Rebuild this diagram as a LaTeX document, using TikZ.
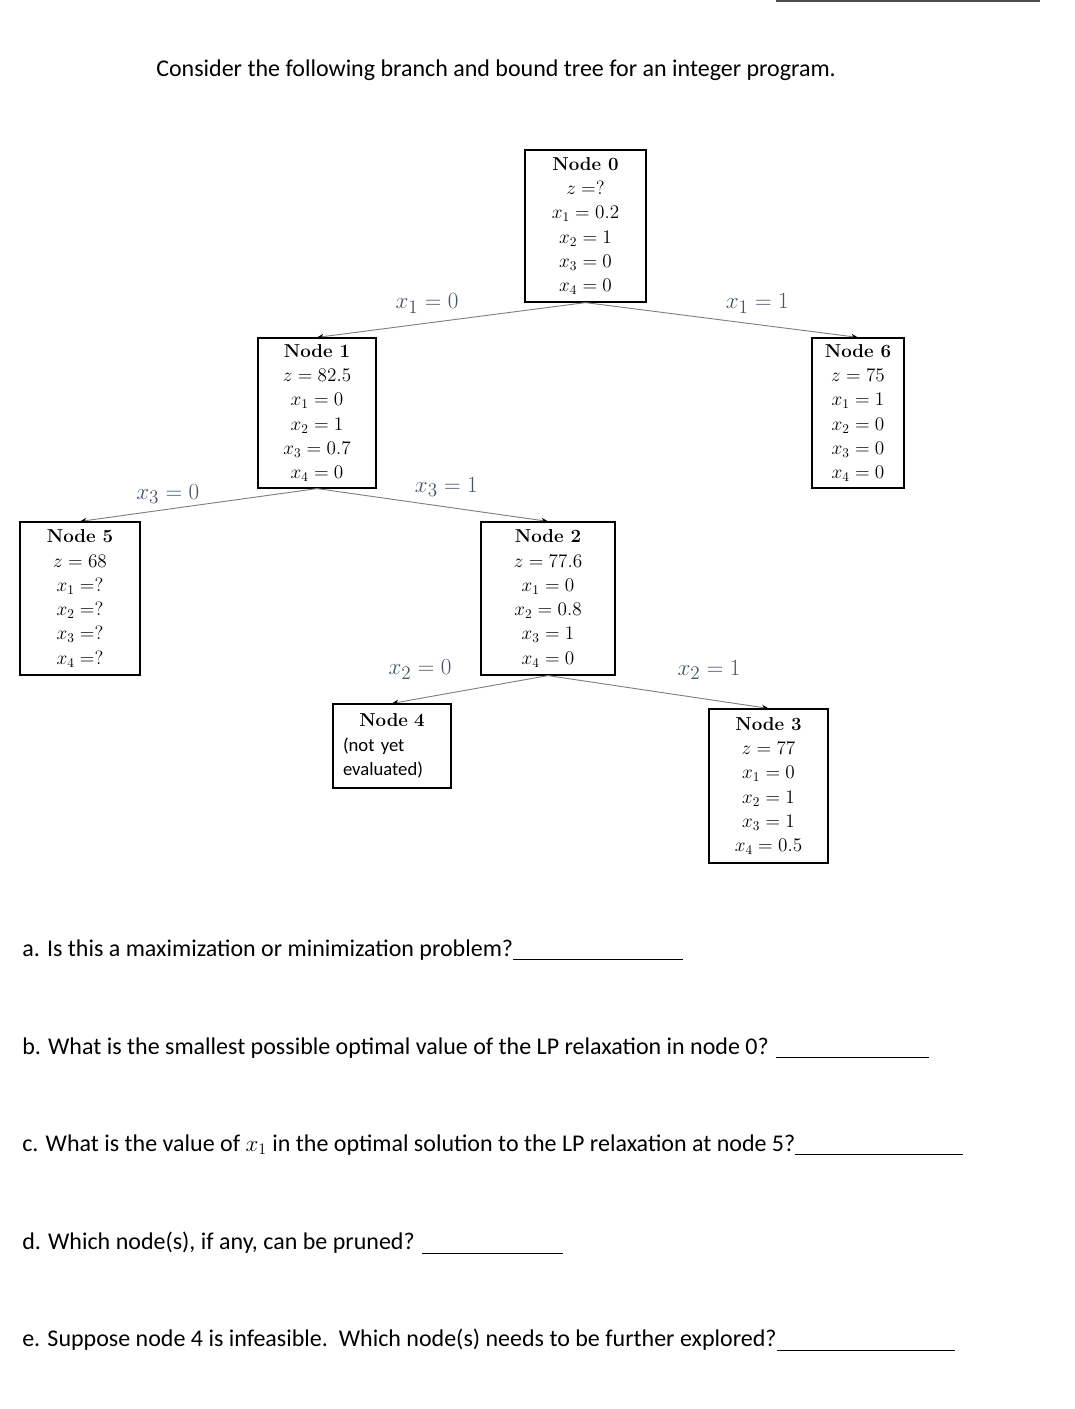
\documentclass[tikz,border=0pt]{standalone}
\usepackage{fontspec}
\newfontfamily\calibri{Carlito}
\usetikzlibrary{arrows.meta}
\definecolor{edgegray}{RGB}{128, 128, 128}
\definecolor{lblblue}{RGB}{68, 84, 106}

\begin{document}
\begin{tikzpicture}[x=0.75pt, y=-0.75pt,
			bbnode/.style={draw, line width=0.9pt, align=center, inner sep=0pt, font=\fontsize{14}{18.2}\selectfont},
			arr/.style={-{Stealth[length=5pt, width=4pt, color=black]}, line width=0.7pt, draw=edgegray},
			lbl/.style={text=lblblue, inner sep=1pt, font=\fontsize{19}{22}\selectfont},
			qtext/.style={anchor=west, inner sep=0pt, font=\calibri\fontsize{18}{22}\selectfont}]
			\useasboundingbox (0,0) rectangle (1074,1409);
			\draw[line width=2pt, black!70] (776,1) -- (1040,1);
			\node[qtext] (title) at (156,70) {Consider the following branch and bound tree for an integer program.};
			% tree
			\node[bbnode, minimum width=90.75pt, minimum height=114pt] (n0) at (585.5,226)
				{\textbf{Node 0}\\ $z =?$\\ $x_1 = 0.2$\\ $x_2 = 1$\\ $x_3 = 0$\\ $x_4 = 0$};
			\node[bbnode, minimum width=88.5pt, minimum height=112.5pt] (n1) at (317,413)
				{\textbf{Node 1}\\ $z = 82.5$\\ $x_1 = 0$\\ $x_2 = 1$\\ $x_3 = 0.7$\\ $x_4 = 0$};
			\node[bbnode, minimum width=69pt, minimum height=112.5pt] (n6) at (858,413)
				{\textbf{Node 6}\\ $z = 75$\\ $x_1 = 1$\\ $x_2 = 0$\\ $x_3 = 0$\\ $x_4 = 0$};
			\node[bbnode, minimum width=90pt, minimum height=114.75pt] (n5) at (80,598.5)
				{\textbf{Node 5}\\ $z = 68$\\ $x_1 =?$\\ $x_2 =?$\\ $x_3 =?$\\ $x_4 =?$};
			\node[bbnode, minimum width=100.5pt, minimum height=114.75pt] (n2) at (548,598.5)
				{\textbf{Node 2}\\ $z = 77.6$\\ $x_1 = 0$\\ $x_2 = 0.8$\\ $x_3 = 1$\\ $x_4 = 0$};
			\node[bbnode, align=left, text width=73.5pt, inner xsep=7.5pt, minimum height=63pt] (n4) at (392,746)
				{\makebox[\linewidth]{\textbf{Node 4}}\\ {\calibri(not yet}\\ {\calibri evaluated)}};
			\node[bbnode, minimum width=89.25pt, minimum height=115.5pt] (n3) at (768.5,786)
				{\textbf{Node 3}\\ $z = 77$\\ $x_1 = 0$\\ $x_2 = 1$\\ $x_3 = 1$\\ $x_4 = 0.5$};
			\draw[arr] (n0.south) -- node[lbl, pos=0.59, above=6pt] {$x_1 = 0$} (n1.north);
			\draw[arr] (n0.south) -- node[lbl, pos=0.63, above=7pt] {$x_1 = 1$} (n6.north);
			\draw[arr] (n1.south) -- node[lbl, pos=0.63, above=3pt] {$x_3 = 0$} (n5.north);
			\draw[arr] (n1.south) -- node[lbl, pos=0.56, above=6.5pt] {$x_3 = 1$} (n2.north);
			\draw[arr] (n2.south) -- node[lbl, pos=0.82, above=13pt] {$x_2 = 0$} (n4.north);
			\draw[arr] (n2.south) -- node[lbl, pos=0.73, above=13.5pt] {$x_2 = 1$} (n3.north);
			% questions
			\node[qtext] (qa) at (22,950) {a. Is this a maximization or minimization problem?\rule[-3pt]{127pt}{0.8pt}};
			\node[qtext] (qb) at (22,1048) {b. What is the smallest possible optimal value of the LP relaxation in node 0? \rule[-3pt]{115pt}{0.8pt}};
			\node[qtext] (qc) at (22,1145) {c. What is the value of $x_1$ in the optimal solution to the LP relaxation at node 5?\rule[-3pt]{126pt}{0.8pt}};
			\node[qtext] (qd) at (22,1243) {d. Which node(s), if any, can be pruned? \rule[-3pt]{106pt}{0.8pt}};
			\node[qtext] (qe) at (22,1340) {e. Suppose node 4 is infeasible.\ \ Which node(s) needs to be further explored?\rule[-3pt]{133.5pt}{0.8pt}};
		\end{tikzpicture}
\end{document}
